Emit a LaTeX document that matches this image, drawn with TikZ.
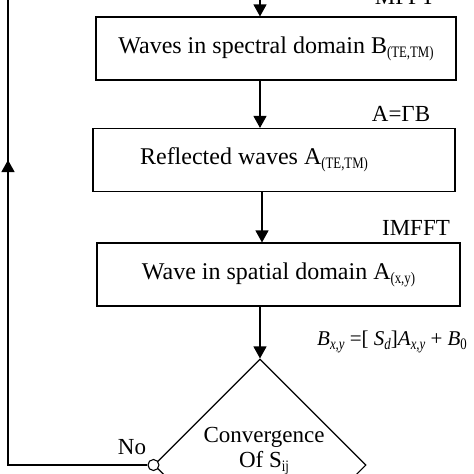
\documentclass[tikz,border=0pt]{standalone}
\usepackage{fontspec}
\setmainfont{Liberation Serif}
\usepackage{graphicx}
\usetikzlibrary{shapes.geometric,arrows.meta}

% kleiner, schmaler Index
\newcommand{\idx}[1]{\raisebox{-4pt}{\fontsize{16}{16}\selectfont\scalebox{0.8}[1]{#1}}}

\begin{document}
\begin{tikzpicture}[x=1pt,y=-1pt,
		box/.style={draw,line width=1.1pt,minimum width=362pt,minimum height=63pt,inner sep=0pt,font=\fontsize{24}{28}\selectfont},
		lbl/.style={inner sep=0pt,font=\fontsize{23}{26}\selectfont},
		pfeil/.style={line width=1.1pt,-{Triangle[length=12pt,width=13pt]}}]
		\useasboundingbox (0,0) rectangle (474,474);
		
		% Kaesten
		\node[box,minimum width=360pt] (spec) at (276,48.5) {Waves in spectral domain B\idx{(TE,TM)}};
		\node[box] (refl) at (274,160) {Reflected waves A\idx{(TE,TM)}\hspace*{40pt}};
		\node[box,minimum width=363pt] (spat) at (278.5,274.5) {Wave in spatial domain A\idx{(x,y)}};
		
		% Raute
		\node[draw,diamond,aspect=1,line width=1.1pt,minimum size=212pt,inner sep=0pt] (conv) at (260,465) {};
		\node[lbl,align=center,font=\fontsize{23}{25}\selectfont] (convtext) at (264,451) {Convergence\\Of S\idx{ij}};
		
		% Hauptlinie
		\coordinate (spine) at (260,-20);
		\coordinate (spine2) at (262,0);
		\draw[pfeil] (spine) -- (spec.north -| spine);
		\draw[pfeil] (spec.south -| spine) -- (refl.north -| spine);
		\draw[pfeil] (refl.south -| spine2) -- (spat.north -| spine2);
		\draw[pfeil] (spat.south -| spine) -- (conv.north);
		
		% Beschriftungen
		\node[lbl] (mfft) at (405,-3) {MFFT};
		\node[lbl] (gamma) at (401,114) {A=ΓB};
		\node[lbl] (imfft) at (416,228) {IMFFT};
		\node[anchor=west,inner sep=0pt,font=\fontsize{21}{23}\selectfont] (formel) at (317,342)
			{\textit{B}\idx{\textit{x,y}} =[ \textit{S}\idx{\textit{d}}]\textit{A}\idx{\textit{x,y}} + \textit{B}\idx{0}};
		
		% Rueckfuehrung
		\node[draw,circle,fill=white,line width=1.1pt,minimum size=11pt,inner sep=0pt] (noport) at (conv.west) {};
		\node[lbl] (no) at (132,447) {No};
		\coordinate (ecke) at (8,465);
		\coordinate (pfeilspitze) at (8,160);
		\coordinate (oben) at (8,-20);
		\draw[line width=1.1pt] (noport.west) -- (ecke) -- (oben);
		\draw[pfeil] (ecke) -- (pfeilspitze);
	\end{tikzpicture}
\end{document}
